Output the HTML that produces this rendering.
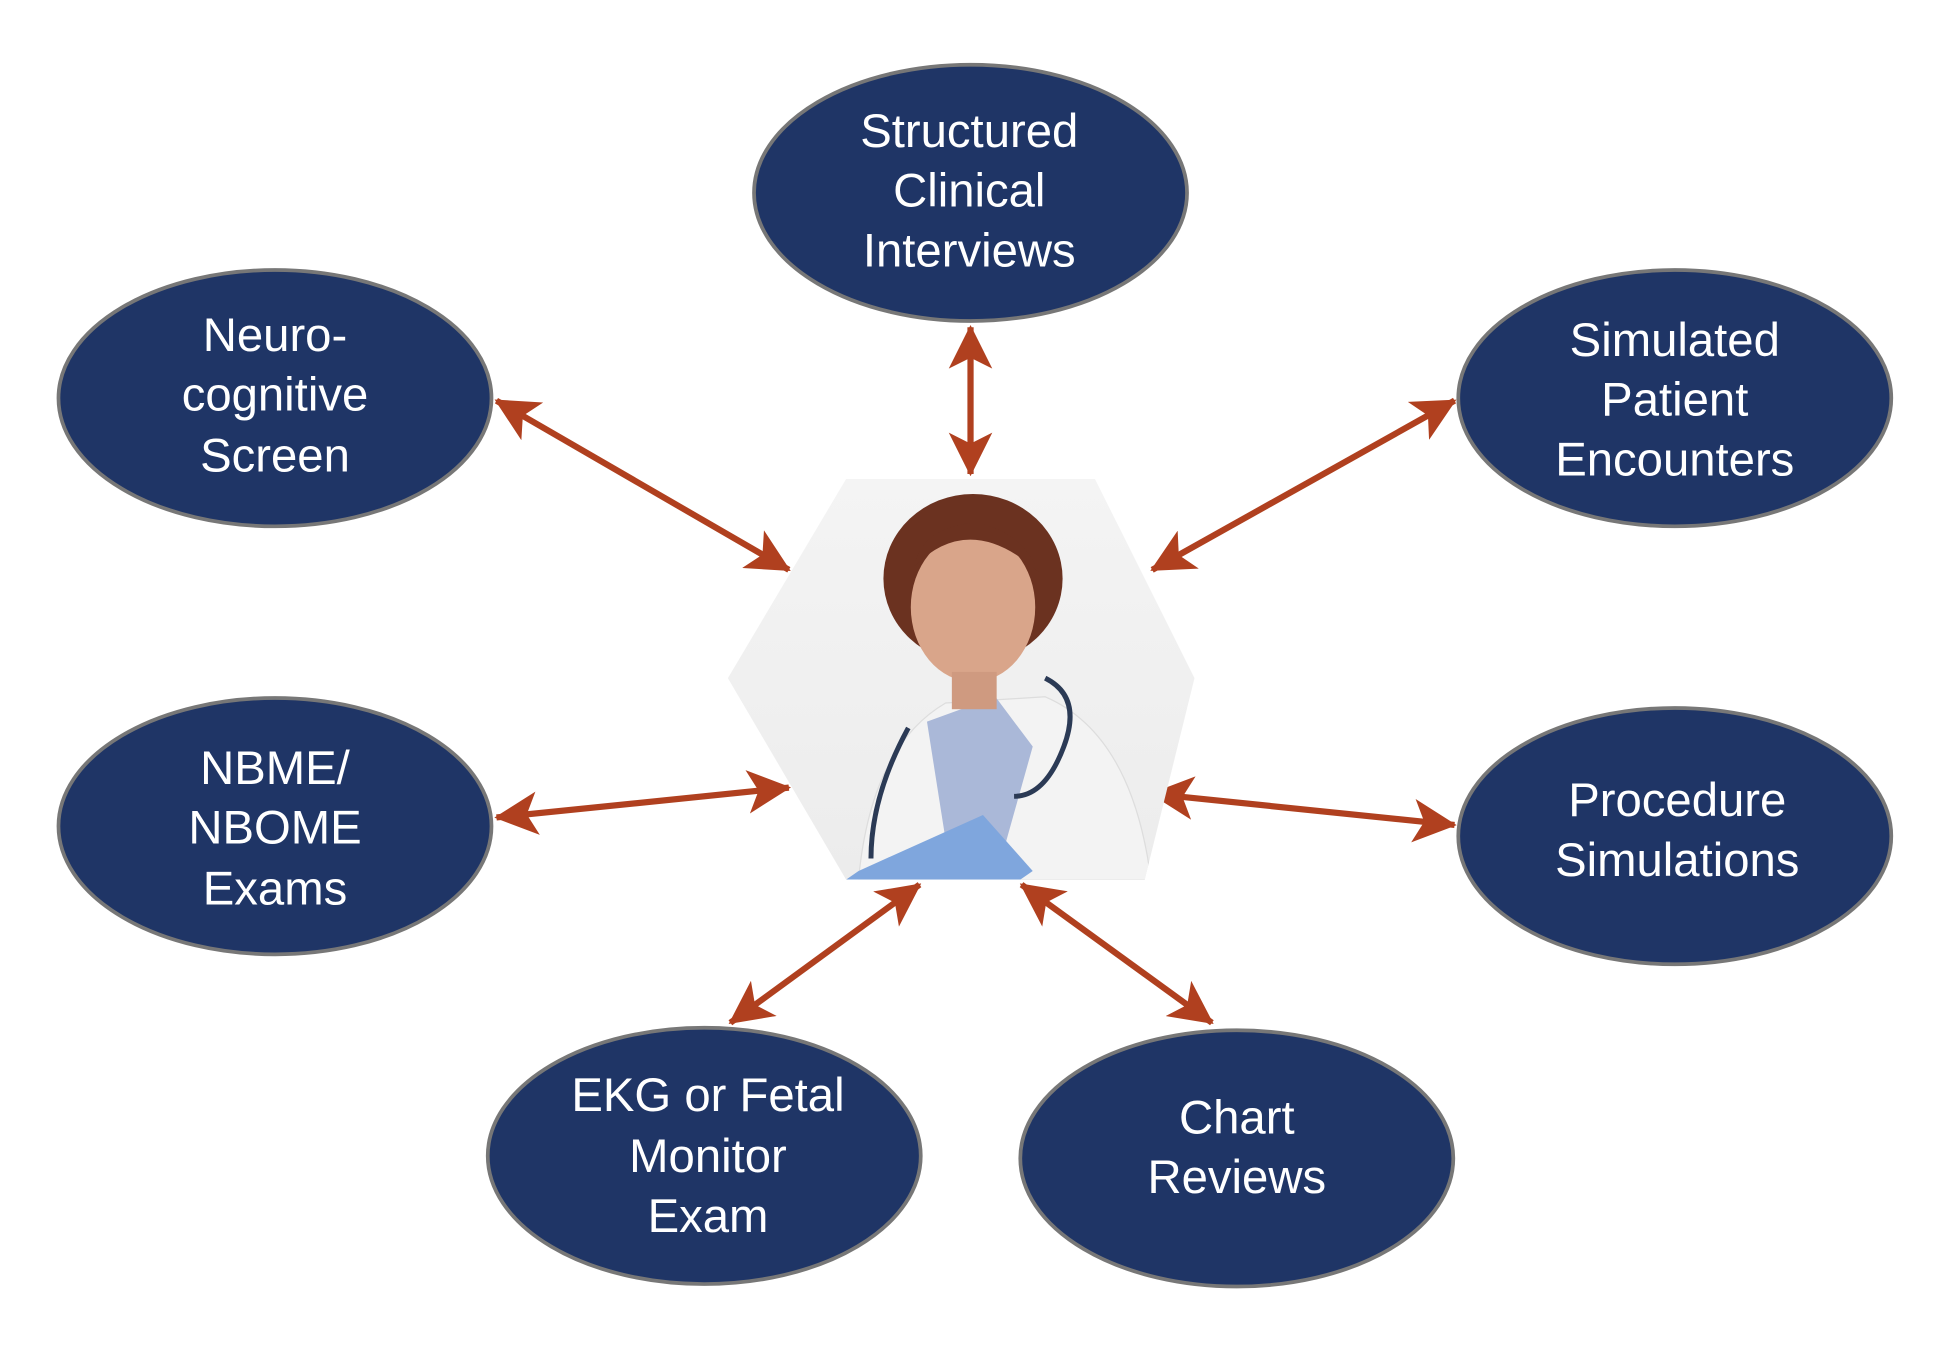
<!DOCTYPE html>
<html><head><meta charset="utf-8"><style>html,body{margin:0;padding:0;background:#fff}svg{display:block}</style></head>
<body>
<svg width="1951" height="1350" viewBox="0 0 1568 1085" preserveAspectRatio="none" xmlns="http://www.w3.org/2000/svg">
<defs>
<marker id="a" viewBox="0 0 10 10" refX="9.5" refY="5" markerWidth="7" markerHeight="7" orient="auto-start-reverse" markerUnits="strokeWidth">
<path d="M0,0 L10,5 L0,10 L2.5,5 Z" fill="#b0401f"/>
</marker>
<linearGradient id="bg" x1="0" y1="0" x2="0" y2="1">
<stop offset="0" stop-color="#f4f4f4"/><stop offset="1" stop-color="#ececec"/>
</linearGradient>
<clipPath id="hx"><polygon points="680,385 880,385 960,545 920,707 680,707 585,545"/></clipPath>
</defs>
<g stroke="#b0401f" stroke-width="5" fill="none" marker-start="url(#a)" marker-end="url(#a)">
<line x1="780" y1="263" x2="780" y2="381"/>
<line x1="399" y1="322" x2="634" y2="458"/>
<line x1="1169" y1="322" x2="926" y2="458"/>
<line x1="399" y1="657" x2="634" y2="633"/>
<line x1="926" y1="638" x2="1169" y2="663"/>
<line x1="739" y1="711" x2="587" y2="822"/>
<line x1="821" y1="711" x2="974" y2="822"/>
</g>
<g clip-path="url(#hx)">
<rect x="580" y="380" width="390" height="330" fill="url(#bg)"/>
<path d="M690,707 Q700,600 760,565 L840,560 Q910,590 925,707 Z" fill="#f3f3f3" stroke="#ddd"/>
<path d="M745,580 L800,560 L830,600 L800,707 L765,707 Z" fill="#aab8d8"/>
<path d="M730,585 Q700,640 700,690" stroke="#2b3a55" stroke-width="4" fill="none"/>
<path d="M840,545 Q870,560 855,600 Q840,640 815,640" stroke="#2b3a55" stroke-width="4" fill="none"/>
<polygon points="690,700 790,655 830,700 820,707 680,707" fill="#7fa6dd"/>
<ellipse cx="782" cy="465" rx="72" ry="68" fill="#6b3220"/>
<ellipse cx="782" cy="488" rx="50" ry="60" fill="#d9a58a"/>
<path d="M735,455 Q780,410 835,460 Q820,425 782,420 Q740,425 735,455Z" fill="#6b3220"/>
<rect x="765" y="540" width="36" height="30" fill="#cf9a80"/>
</g>
<g fill="#1f3566" stroke="#777" stroke-width="3">
<ellipse cx="780" cy="155" rx="174" ry="103"/>
<ellipse cx="221" cy="320" rx="174" ry="103"/>
<ellipse cx="1346" cy="320" rx="174" ry="103"/>
<ellipse cx="221" cy="664" rx="174" ry="103"/>
<ellipse cx="1346" cy="672" rx="174" ry="103"/>
<ellipse cx="566" cy="929" rx="174" ry="103"/>
<ellipse cx="994" cy="931" rx="174" ry="103"/>
</g>
<g fill="#fff" font-family="'Liberation Sans', sans-serif" font-size="38" text-anchor="middle">
<text x="779" y="118">Structured</text><text x="779" y="166">Clinical</text><text x="779" y="214">Interviews</text>
<text x="221" y="282">Neuro-</text><text x="221" y="330">cognitive</text><text x="221" y="379">Screen</text>
<text x="1346" y="286">Simulated</text><text x="1346" y="334">Patient</text><text x="1346" y="382">Encounters</text>
<text x="221" y="630">NBME/</text><text x="221" y="678">NBOME</text><text x="221" y="727">Exams</text>
<text x="1348" y="656">Procedure</text><text x="1348" y="704">Simulations</text>
<text x="569" y="893">EKG or Fetal</text><text x="569" y="942">Monitor</text><text x="569" y="990">Exam</text>
<text x="994" y="911">Chart</text><text x="994" y="959">Reviews</text>
</g>
</svg>
</body></html>
